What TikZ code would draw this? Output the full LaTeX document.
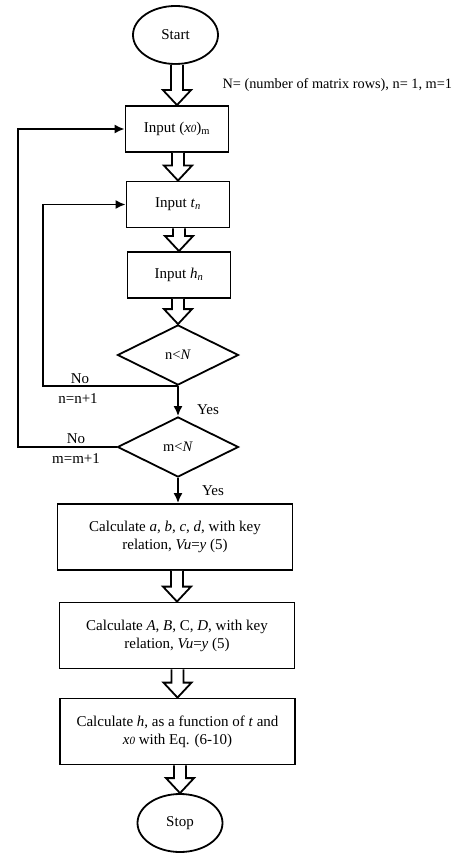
\documentclass[tikz,border=0pt]{standalone}
\usepackage{fontspec}
\setmainfont{Liberation Serif}
\usetikzlibrary{shapes.geometric,arrows.meta,calc}

\tikzset{
	txt/.style={font=\fontsize{15}{18}\selectfont},
	terminal/.style={draw, ellipse, line width=1.8pt, minimum width=85pt, minimum height=58pt, inner sep=0pt, txt},
	inbox/.style={draw, rectangle, line width=1.8pt, minimum width=103pt, minimum height=46pt, inner sep=0pt, txt},
	calcbox/.style={draw, rectangle, line width=1.8pt, minimum width=235pt, minimum height=66pt, align=center, inner sep=0pt, txt},
	test/.style={draw, diamond, line width=1.8pt, minimum width=121pt, minimum height=60pt, aspect=2, inner sep=0pt, font=\fontsize{14.5}{17}\selectfont},
	loop/.style={line width=1.8pt, -{Latex[length=10pt,width=9pt]}},
}

% hollow block arrow from the south of #1 to the north of #2
\newcommand{\hollowarrow}[2]{%
	\draw[line width=1.8pt, fill=white, line join=miter]
		($(#1.south -| #2.north)+(-6,0)$) -- ($(#2.north)+(-6,-15)$) -- ($(#2.north)+(-14,-15)$)
		-- (#2.north) -- ($(#2.north)+(14,-15)$) -- ($(#2.north)+(6,-15)$)
		-- ($(#1.south -| #2.north)+(6,0)$);
}

\begin{document}
\begin{tikzpicture}[x=1pt, y=-1pt]
	\useasboundingbox (0,0) rectangle (474,866);
	
	\node[terminal] (start) at (175.5,35) {Start};
	\node[anchor=west, font=\fontsize{14.3}{17}\selectfont] (init) at (219,85) {N= (number of matrix rows), n= 1, m=1};
	
	\node[inbox] (inx) at (177,129) {Input (\textit{x}{\fontsize{11}{13}\selectfont\textit{0}})\textsubscript{m}};
	\node[inbox] (intn) at (178,204.5) {Input \textit{t}\textsubscript{\textit{n}}};
	\node[inbox] (inhn) at (179,275) {Input \textit{h}\textsubscript{\textit{n}}};
	
	\node[test] (ntest) at (178,355) {n<\textit{N}};
	\node[test] (mtest) at (178,447) {m<\textit{N}};
	
	\node[calcbox] (calcab) at (175,537) {Calculate \textit{a}, \textit{b}, \textit{c}, \textit{d}, with key\\relation, \textit{Vu}=\textit{y} (5)};
	\node[calcbox] (calcAB) at (177,635.5) {Calculate \textit{A}, \textit{B}, C, \textit{D}, with key\\relation, \textit{Vu}=\textit{y} (5)};
	\node[calcbox] (calch) at (177.5,731.5) {Calculate \textit{h}, as a function of \textit{t} and\\\textit{x}{\fontsize{11}{13}\selectfont\textit{0}} with Eq. (6-10)};
	
	\node[terminal] (stop) at (180,823) {Stop};
	
	% block arrows
	\hollowarrow{start}{inx}
	\hollowarrow{inx}{intn}
	\hollowarrow{intn}{inhn}
	\hollowarrow{inhn}{ntest}
	\hollowarrow{calcab}{calcAB}
	\hollowarrow{calcAB}{calch}
	\hollowarrow{calch}{stop}
	
	% yes branches
	\draw[loop] (ntest.south) -- (mtest.north);
	\draw[loop] (mtest.south) -- (mtest.south |- calcab.north);
	\node[txt] (yesn) at (208,410) {Yes};
	\node[txt] (yesm) at (213,491) {Yes};
	
	% no branches
	\coordinate (innerleft) at (43,0);
	\coordinate (outerleft) at (18,0);
	\draw[loop] (ntest.south) -- (ntest.south -| innerleft) |- (intn.west);
	\draw[loop] (mtest.west) -- (mtest.west -| outerleft) |- (inx.west);
	\node[txt] (non) at (80,379) {No};
	\node[txt] (incn) at (78,399) {n=n+1};
	\node[txt] (nom) at (76,439) {No};
	\node[txt] (incm) at (76,459) {m=m+1};
\end{tikzpicture}
\end{document}
